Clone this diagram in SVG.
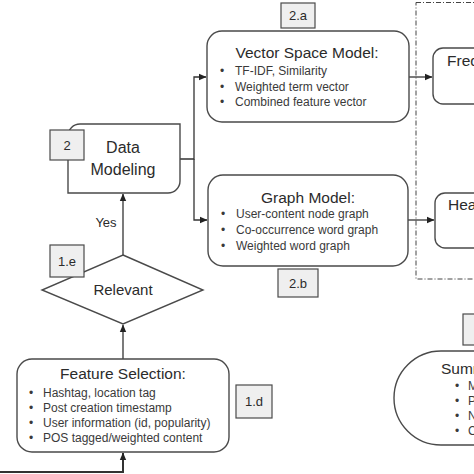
<svg xmlns="http://www.w3.org/2000/svg" width="474" height="474" viewBox="0 0 474 474">
<defs>
<marker id="ah" markerWidth="8" markerHeight="8" refX="7" refY="4" orient="auto" markerUnits="userSpaceOnUse">
<path d="M0,0.8 L7.5,4 L0,7.2 Z" fill="#222"/>
</marker>
<style>
.box{fill:#fff;stroke:#4a4a4a;stroke-width:1.4}
.lbl{fill:#efefef;stroke:#4a4a4a;stroke-width:1.2}
.ln{fill:none;stroke:#333;stroke-width:1.3}
.t{font-family:"Liberation Sans",Arial,sans-serif;font-size:15px;fill:#2b2b2b}
.b{font-family:"Liberation Sans",Arial,sans-serif;font-size:12px;fill:#3a3a3a}
.n{font-family:"Liberation Sans",Arial,sans-serif;font-size:13px;fill:#2b2b2b;text-anchor:middle}
.c{text-anchor:middle}
</style>
</defs>
<rect width="474" height="474" fill="#fff"/>

<g id="connectors">
<path class="ln" d="M180,159 H194 V77 H206" marker-end="url(#ah)"/>
<path class="ln" d="M194,159 V220 H207" marker-end="url(#ah)"/>
<path class="ln" d="M409,77 H432" marker-end="url(#ah)"/>
<path class="ln" d="M408,220 H434" marker-end="url(#ah)"/>
<path class="ln" d="M123,255 V194" marker-end="url(#ah)"/>
<path class="ln" d="M123,359 V325" marker-end="url(#ah)"/>
<path class="ln" d="M0,472 H123 V453" style="stroke-width:2" marker-end="url(#ah)"/>
<text class="b" x="106" y="227" text-anchor="middle" style="font-size:13px;fill:#2b2b2b">Yes</text>
</g>

<g id="group-box">
<rect x="416" y="2.5" width="80" height="276.5" fill="none" stroke="#444" stroke-width="1" stroke-dasharray="5 2 1 2"/>
</g>

<g id="vsm">
<rect class="box" x="207" y="31" width="202" height="91" rx="15"/>
<text class="t c" x="307" y="58" style="font-size:15.5px">Vector Space Model:</text>
<text class="b" x="220" y="75">•</text><text class="b" x="235" y="75">TF-IDF, Similarity</text>
<text class="b" x="220" y="91">•</text><text class="b" x="235" y="91">Weighted term vector</text>
<text class="b" x="220" y="106">•</text><text class="b" x="235" y="106">Combined feature vector</text>
</g>
<g id="lbl-2a">
<rect class="lbl" x="281" y="3" width="34" height="25"/>
<text class="n" x="298" y="20">2.a</text>
</g>

<g id="graph">
<rect class="box" x="208" y="175" width="200" height="91" rx="15"/>
<text class="t c" x="308" y="203" style="font-size:15.5px">Graph Model:</text>
<text class="b" x="221" y="218">•</text><text class="b" x="236" y="218">User-content node graph</text>
<text class="b" x="221" y="234">•</text><text class="b" x="236" y="234">Co-occurrence word graph</text>
<text class="b" x="221" y="250">•</text><text class="b" x="236" y="250">Weighted word graph</text>
</g>
<g id="lbl-2b">
<rect class="lbl" x="278" y="269" width="40" height="28"/>
<text class="n" x="298" y="288">2.b</text>
</g>

<g id="freq">
<rect class="box" x="433" y="48" width="80" height="56" rx="10"/>
<text class="t" x="447" y="66" style="font-size:15.5px">Freq</text>
</g>
<g id="hea">
<rect class="box" x="435" y="193" width="80" height="55" rx="10"/>
<text class="t" x="448" y="210" style="font-size:15.5px">Hea</text>
</g>

<g id="data-modeling">
<path class="box" d="M80,124 H180 V181 A12,12 0 0 1 168,193 H68 V136 A12,12 0 0 1 80,124 Z"/>
<text class="t c" x="123" y="153" style="font-size:16px">Data</text>
<text class="t c" x="123" y="175" style="font-size:16px">Modeling</text>
</g>
<g id="lbl-2">
<rect class="lbl" x="50" y="130" width="34" height="30"/>
<text class="n" x="67" y="150">2</text>
</g>

<g id="relevant">
<polygon class="box" points="123,255 203,290 123,324 42,290"/>
<text class="t c" x="123" y="295">Relevant</text>
</g>
<g id="lbl-1e">
<rect class="lbl" x="50" y="245" width="34" height="32"/>
<text class="n" x="67" y="266">1.e</text>
</g>

<g id="feature-selection">
<rect class="box" x="17" y="359" width="212" height="93" rx="15"/>
<text class="t c" x="123" y="379" style="font-size:15.5px">Feature Selection:</text>
<text class="b" x="29" y="397">•</text><text class="b" x="43" y="397">Hashtag, location tag</text>
<text class="b" x="29" y="412">•</text><text class="b" x="43" y="412">Post creation timestamp</text>
<text class="b" x="29" y="427">•</text><text class="b" x="43" y="427">User information (id, popularity)</text>
<text class="b" x="29" y="442">•</text><text class="b" x="43" y="442">POS tagged/weighted content</text>
</g>
<g id="lbl-1d">
<rect class="lbl" x="236" y="385" width="36" height="33"/>
<text class="n" x="254" y="406">1.d</text>
</g>

<g id="summary">
<rect class="box" x="394" y="351" width="200" height="94" rx="47"/>
<text class="t" x="441" y="374" style="font-size:15.5px">Summ</text>
<text class="b" x="455" y="390">•</text><text class="b" x="468" y="390">M</text>
<text class="b" x="455" y="405">•</text><text class="b" x="468" y="405">P</text>
<text class="b" x="455" y="420">•</text><text class="b" x="468" y="420">N</text>
<text class="b" x="455" y="435">•</text><text class="b" x="468" y="435">C</text>
</g>
<g id="lbl-summary">
<rect class="lbl" x="463" y="314" width="30" height="31"/>
</g>
</svg>
